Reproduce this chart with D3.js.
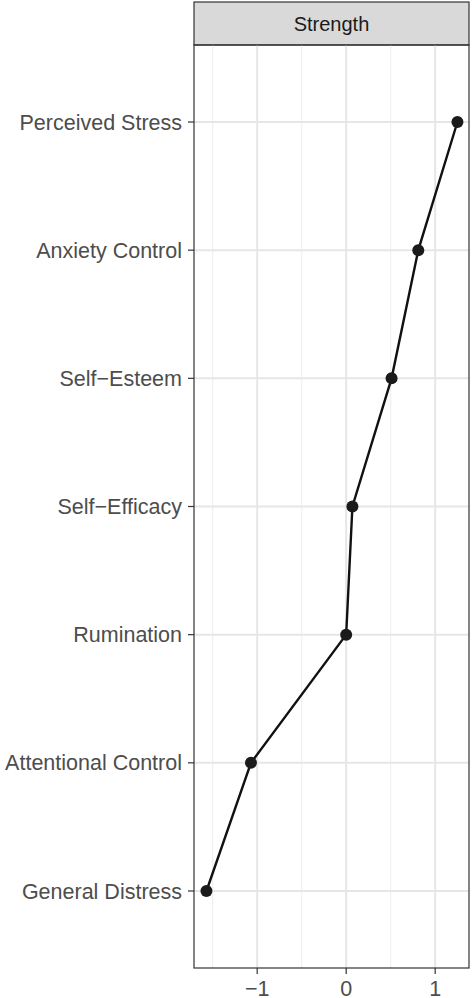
<!DOCTYPE html>
<html><head><meta charset="utf-8">
<script src="https://cdn.jsdelivr.net/npm/d3@7"></script>
<style>body{margin:0;background:#fff}</style></head>
<body><svg id="c" width="474" height="998"></svg>
<script>
const categories = ["Perceived Stress","Anxiety Control","Self\u2212Esteem","Self\u2212Efficacy","Rumination","Attentional Control","General Distress"];
const values = [1.25, 0.81, 0.51, 0.07, 0.0, -1.07, -1.57];
const xTicks = [-1, 0, 1];
const xMinor = [-1.5, -0.5, 0.5];
const stripLabel = "Strength";

const svg = d3.select("#c");
const L = 194, R = 469, T = 45, B = 968;
const x = d3.scaleLinear().domain([-1.71, 1.38]).range([L, R]);
const y = d3.scalePoint().domain(categories).range([122, 891]);
const FS = 21.5;

svg.append("rect").attr("x", L).attr("y", 2).attr("width", R - L).attr("height", T - 2)
  .attr("fill", "#d9d9d9").attr("stroke", "#333").attr("stroke-width", 1.2);
svg.append("text").attr("x", (L + R) / 2).attr("y", 31).attr("text-anchor", "middle")
  .attr("font-family", "Liberation Sans, Arial").attr("font-size", 20).attr("fill", "#1a1a1a").text(stripLabel);

const g = svg.append("g");
g.selectAll(".mn").data(xMinor).join("line").attr("x1", d => x(d)).attr("x2", d => x(d))
  .attr("y1", T).attr("y2", B).attr("stroke", "#f0f0f0").attr("stroke-width", 1.2);
g.selectAll(".mj").data(xTicks).join("line").attr("x1", d => x(d)).attr("x2", d => x(d))
  .attr("y1", T).attr("y2", B).attr("stroke", "#e6e6e6").attr("stroke-width", 2);
g.selectAll(".hy").data(categories).join("line").attr("x1", L).attr("x2", R)
  .attr("y1", d => y(d)).attr("y2", d => y(d)).attr("stroke", "#e6e6e6").attr("stroke-width", 2);

const pts = categories.map((c, i) => [x(values[i]), y(c)]);
g.append("path").attr("d", d3.line()(pts)).attr("fill", "none").attr("stroke", "#111").attr("stroke-width", 2.4);
g.selectAll("circle").data(pts).join("circle").attr("cx", d => d[0]).attr("cy", d => d[1]).attr("r", 6).attr("fill", "#1a1a1a");

svg.append("rect").attr("x", L).attr("y", T).attr("width", R - L).attr("height", B - T)
  .attr("fill", "none").attr("stroke", "#333").attr("stroke-width", 1.2);

categories.forEach(c => {
  svg.append("line").attr("x1", L - 6).attr("x2", L).attr("y1", y(c)).attr("y2", y(c)).attr("stroke", "#333").attr("stroke-width", 1.2);
  svg.append("text").attr("x", L - 12).attr("y", y(c) + 7.5).attr("text-anchor", "end")
    .attr("font-family", "Liberation Sans, Arial").attr("font-size", FS).attr("fill", "#4d4d4d").text(c);
});
xTicks.forEach(t => {
  svg.append("line").attr("x1", x(t)).attr("x2", x(t)).attr("y1", B).attr("y2", B + 6).attr("stroke", "#333").attr("stroke-width", 1.2);
  svg.append("text").attr("x", x(t)).attr("y", B + 28).attr("text-anchor", "middle")
    .attr("font-family", "Liberation Sans, Arial").attr("font-size", FS).attr("fill", "#4d4d4d").text(t < 0 ? "\u2212" + Math.abs(t) : t);
});
</script></body></html>
